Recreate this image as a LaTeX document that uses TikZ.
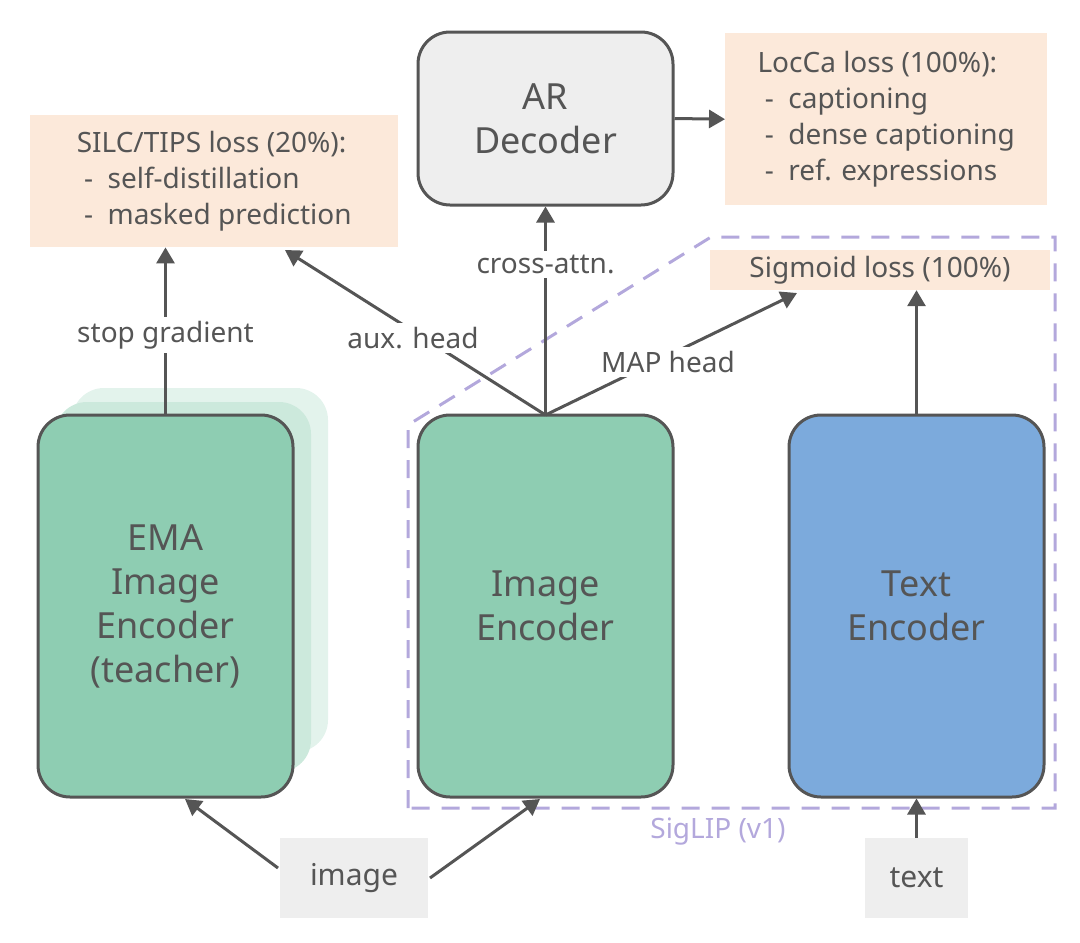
\documentclass[tikz,border=0pt]{standalone}
\usepackage{fontspec}
\setmainfont{Noto Sans}
\usetikzlibrary{arrows.meta}
\definecolor{edge}{HTML}{555555}
\definecolor{imgc}{HTML}{8ECDB2}
\definecolor{txtc}{HTML}{7CAADC}
\definecolor{decc}{HTML}{EEEEEE}
\definecolor{lossc}{HTML}{FCE9DA}
\definecolor{inpc}{HTML}{EEEEEE}
\definecolor{sigc}{HTML}{B3A8DC}
\begin{document}
\begin{tikzpicture}[x=1pt,y=-1pt,
  block/.style={draw=edge,line width=3pt,rounded corners=32pt,align=center,
    text=edge,font=\fontsize{36}{44}\selectfont,inner sep=0pt},
  enc/.style={block,minimum width=255pt,minimum height=382pt},
  loss/.style={fill=lossc,text=edge,align=left,font=\fontsize{28}{42}\selectfont,
    inner sep=6pt,anchor=north west},
  inp/.style={fill=inpc,text=edge,font=\fontsize{30}{36}\selectfont,
    minimum height=80pt},
  arr/.style={draw=edge,line width=3pt,-{Triangle[length=16pt,width=18pt]}},
  lab/.style={fill=white,text=edge,font=\fontsize{28}{34}\selectfont,inner sep=4pt}]
\useasboundingbox (0,0) rectangle (1080,943);
% shadow layers behind the teacher
\fill[imgc!25,rounded corners=32pt] (72,388) rectangle (328,752);
\fill[imgc!45,rounded corners=32pt] (55,402) rectangle (311,772);
% dashed SigLIP region
\draw[sigc,line width=3pt,dash pattern=on 18pt off 12pt]
  (408,808) -- (408,425) -- (711,237) -- (1055,237) -- (1055,808) -- cycle;
\node[text=sigc,font=\fontsize{28}{34}\selectfont] (sig) at (718,832) {SigLIP (v1)};
% blocks
\node[enc,fill=imgc] (ema) at (165.5,606) {EMA\\Image\\Encoder\\(teacher)};
\node[enc,fill=imgc] (ie) at (545.5,606) {Image\\Encoder};
\node[enc,fill=txtc] (te) at (916.5,606) {Text\\Encoder};
\node[block,fill=decc,minimum width=255pt,minimum height=173pt] (ar) at (545.5,118.5) {AR\\Decoder};
% losses
\node[loss,minimum width=368pt,minimum height=132pt] (silc) at (30,115)
  {SILC/TIPS loss (20\%):\\[-6pt]\ -\ \ self-distillation\\[-6pt]\ -\ \ masked prediction};
\node[loss,minimum width=322pt,minimum height=172pt] (locca) at (725,33)
  {LocCa loss (100\%):\\[-6pt]\ -\ \ captioning\\[-6pt]\ -\ \ dense captioning\\[-6pt]\ -\ \ ref. expressions};
\node[loss,anchor=center,minimum width=340pt,minimum height=40pt,inner sep=2pt] (sigl) at (880,270)
  {Sigmoid loss (100\%)};
% inputs
\node[inp,minimum width=148pt] (img) at (354,878) {image};
\node[inp,minimum width=103pt] (txt) at (916.5,878) {text};
% connector ends
\coordinate (iet) at (545.5,415);
\coordinate (auxend) at (285,250);
\coordinate (mapend) at (797,293);
\coordinate (emab) at (185,799);
\coordinate (ieb) at (540,799);
\coordinate (imgl) at (278,868);
\coordinate (imgr) at (430,878);
\draw[arr] (imgl) -- (emab);
\draw[arr] (imgr) -- (ieb);
\draw[arr] (txt.north) -- (te.south);
\draw[arr] (ema.north) -- (silc.south -| ema.north) node[lab,pos=0.47] {stop gradient};
\draw[arr] (iet) -- (auxend);
\node[lab] (auxl) at (413,338) {aux. head};
\draw[arr] (iet) -- (ar.south) node[lab,pos=0.72] {cross-attn.};
\draw[arr] (iet) -- (mapend);
\node[lab] (mapl) at (668,362) {MAP head};
\draw[arr] (te.north) -- (sigl.south -| te.north);
\draw[arr] (ar.east) -- (locca.west);
\end{tikzpicture}
\end{document}
